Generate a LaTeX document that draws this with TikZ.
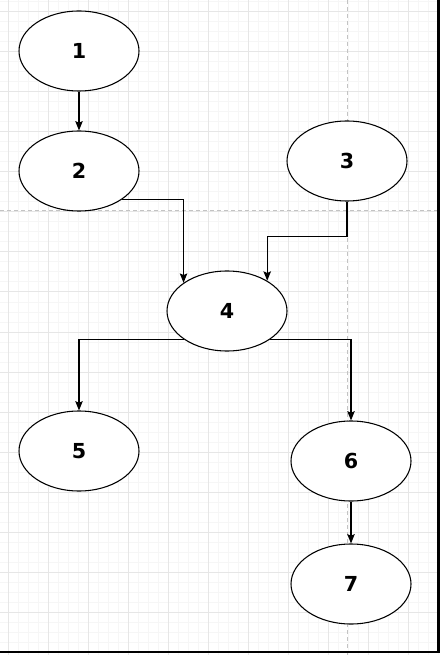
\documentclass[tikz,border=0pt]{standalone}
\usepackage{fontspec}
\setmainfont{DejaVu Sans}
\usetikzlibrary{shapes.geometric,arrows.meta}
\definecolor{minorgrid}{RGB}{246,246,246}
\definecolor{majorgrid}{RGB}{230,230,230}
\definecolor{pageline}{RGB}{195,195,195}
\tikzset{
  stepnode/.style={ellipse,draw,line width=0.8pt,fill=white,minimum width=90pt,minimum height=60pt,inner sep=0pt,font=\fontsize{15.5}{17}\selectfont\bfseries},
  link/.style={line width=0.9pt,-{Stealth[length=7pt,width=5.6pt,inset=1.2pt]}},
}
\begin{document}
\begin{tikzpicture}[x=0.75pt,y=0.75pt,yscale=-1,xscale=1]
\useasboundingbox (0,0) rectangle (440,655);
\fill[white] (0,0) rectangle (440,655);

%Grid: minor lines
\foreach \x in {8,18,...,438} \draw[minorgrid,line width=0.75pt] (\x,0) -- (\x,655);
\foreach \y in {2,12,...,652} \draw[minorgrid,line width=0.75pt] (0,\y) -- (440,\y);
%Grid: major lines
\foreach \x in {8,48,...,438} \draw[majorgrid,line width=0.75pt] (\x,0) -- (\x,655);
\foreach \y in {12,52,...,652} \draw[majorgrid,line width=0.75pt] (0,\y) -- (440,\y);

%Straight Lines: page breaks
\draw[pageline,line width=0.75pt,dash pattern={on 3pt off 2.25pt}] (347,0) -- (347,655);
\draw[pageline,line width=0.75pt,dash pattern={on 3pt off 2.25pt}] (0,211) -- (440,211);

%Straight Lines: frame edge
\draw[line width=2pt] (438.5,0) -- (438.5,652);
\draw[line width=2pt] (0,652) -- (440,652);

%Shape: Ellipses
\node[stepnode] (n1) at (79,51) {1};
\node[stepnode] (n2) at (79,171) {2};
\node[stepnode] (n3) at (347,161) {3};
\node[stepnode] (n4) at (227,311) {4};
\node[stepnode] (n5) at (79,451) {5};
\node[stepnode] (n6) at (351,461) {6};
\node[stepnode] (n7) at (351,584) {7};

%Connectors
\draw[link] (n1) -- (n2);
\draw[link] (n2.-33) -| (n4.147);
\draw[link] (n3.south) -- ++(0,35) -| (n4.37);
\draw[link] (n4.213) -| (n5.north);
\draw[link] (n4.-33) -| (n6.north);
\draw[link] (n6) -- (n7);

\end{tikzpicture}
\end{document}
